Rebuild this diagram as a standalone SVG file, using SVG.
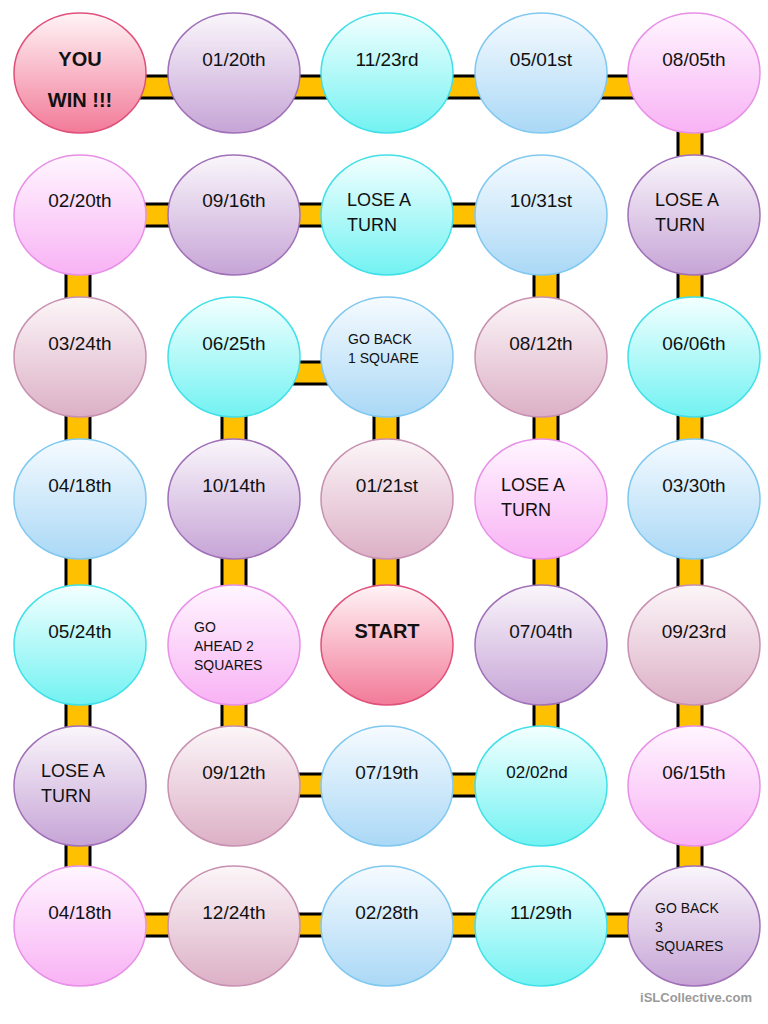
<svg xmlns="http://www.w3.org/2000/svg" width="768" height="1024" viewBox="0 0 768 1024">
<defs>
<linearGradient id="gR" x1="0" y1="0" x2="0" y2="1"><stop offset="0" stop-color="#fff4f6"/><stop offset="1" stop-color="#f27a98"/></linearGradient>
<linearGradient id="gP" x1="0" y1="0" x2="0" y2="1"><stop offset="0" stop-color="#faf6fb"/><stop offset="1" stop-color="#c6a4d6"/></linearGradient>
<linearGradient id="gC" x1="0" y1="0" x2="0" y2="1"><stop offset="0" stop-color="#f4ffff"/><stop offset="1" stop-color="#72f2f2"/></linearGradient>
<linearGradient id="gB" x1="0" y1="0" x2="0" y2="1"><stop offset="0" stop-color="#f6fbff"/><stop offset="1" stop-color="#aad8f6"/></linearGradient>
<linearGradient id="gM" x1="0" y1="0" x2="0" y2="1"><stop offset="0" stop-color="#fff6ff"/><stop offset="1" stop-color="#f8b2f4"/></linearGradient>
<linearGradient id="gS" x1="0" y1="0" x2="0" y2="1"><stop offset="0" stop-color="#fcf6f8"/><stop offset="1" stop-color="#dcb0c6"/></linearGradient>
</defs>
<style>
.h{fill:#ffc000;stroke:#000;stroke-width:3}
ellipse{stroke-width:1.5}
.R{fill:url(#gR);stroke:#e0507a}.P{fill:url(#gP);stroke:#a070b8}.C{fill:url(#gC);stroke:#40e0e8}
.B{fill:url(#gB);stroke:#80c8f0}.M{fill:url(#gM);stroke:#e890e8}.S{fill:url(#gS);stroke:#c890b0}
text{font-family:"Liberation Sans",Arial,sans-serif;fill:#111}
.t{font-size:19px;text-anchor:middle}
.l{font-size:18px}
.s{font-size:14px}
.b{font-weight:bold;font-size:20px;text-anchor:middle}
</style>
<rect width="768" height="1024" fill="#fff"/>
<g id="connectors">
<rect class="h" x="140" y="76" width="500" height="22"/>
<rect class="h" x="678" y="120" width="24" height="50"/>
<rect class="h" x="140" y="204" width="350" height="22"/>
<rect class="h" x="66" y="265" width="24" height="45"/>
<rect class="h" x="534" y="265" width="24" height="45"/>
<rect class="h" x="678" y="265" width="24" height="45"/>
<rect class="h" x="290" y="362" width="45" height="22"/>
<rect class="h" x="66" y="405" width="24" height="45"/>
<rect class="h" x="222" y="405" width="24" height="45"/>
<rect class="h" x="374" y="405" width="24" height="45"/>
<rect class="h" x="534" y="405" width="24" height="45"/>
<rect class="h" x="678" y="405" width="24" height="45"/>
<rect class="h" x="66" y="550" width="24" height="45"/>
<rect class="h" x="222" y="550" width="24" height="45"/>
<rect class="h" x="374" y="550" width="24" height="45"/>
<rect class="h" x="534" y="550" width="24" height="45"/>
<rect class="h" x="678" y="550" width="24" height="45"/>
<rect class="h" x="66" y="695" width="24" height="45"/>
<rect class="h" x="222" y="695" width="24" height="45"/>
<rect class="h" x="534" y="695" width="24" height="45"/>
<rect class="h" x="678" y="695" width="24" height="45"/>
<rect class="h" x="290" y="774" width="200" height="22"/>
<rect class="h" x="66" y="835" width="24" height="45"/>
<rect class="h" x="678" y="835" width="24" height="45"/>
<rect class="h" x="140" y="914" width="500" height="22"/>
</g>
<g id="n11"><ellipse class="R" cx="80" cy="73" rx="66" ry="60"/><text class="b" x="80" y="66">YOU</text><text class="b" x="80" y="107">WIN !!!</text></g>
<g id="n12"><ellipse class="P" cx="234" cy="73" rx="66" ry="60"/><text class="t" x="234" y="66">01/20th</text></g>
<g id="n13"><ellipse class="C" cx="387" cy="73" rx="66" ry="60"/><text class="t" x="387" y="66">11/23rd</text></g>
<g id="n14"><ellipse class="B" cx="541" cy="73" rx="66" ry="60"/><text class="t" x="541" y="66">05/01st</text></g>
<g id="n15"><ellipse class="M" cx="694" cy="73" rx="66" ry="60"/><text class="t" x="694" y="66">08/05th</text></g>
<g id="n21"><ellipse class="M" cx="80" cy="215" rx="66" ry="60"/><text class="t" x="80" y="207">02/20th</text></g>
<g id="n22"><ellipse class="P" cx="234" cy="215" rx="66" ry="60"/><text class="t" x="234" y="207">09/16th</text></g>
<g id="n23"><ellipse class="C" cx="387" cy="215" rx="66" ry="60"/><text class="l" x="347" y="206">LOSE A</text><text class="l" x="347" y="231">TURN</text></g>
<g id="n24"><ellipse class="B" cx="541" cy="215" rx="66" ry="60"/><text class="t" x="541" y="207">10/31st</text></g>
<g id="n25"><ellipse class="P" cx="694" cy="215" rx="66" ry="60"/><text class="l" x="655" y="206">LOSE A</text><text class="l" x="655" y="231">TURN</text></g>
<g id="n31"><ellipse class="S" cx="80" cy="357" rx="66" ry="60"/><text class="t" x="80" y="350">03/24th</text></g>
<g id="n32"><ellipse class="C" cx="234" cy="357" rx="66" ry="60"/><text class="t" x="234" y="350">06/25th</text></g>
<g id="n33"><ellipse class="B" cx="387" cy="357" rx="66" ry="60"/><text class="s" x="348" y="344">GO BACK</text><text class="s" x="348" y="363">1 SQUARE</text></g>
<g id="n34"><ellipse class="S" cx="541" cy="357" rx="66" ry="60"/><text class="t" x="541" y="350">08/12th</text></g>
<g id="n35"><ellipse class="C" cx="694" cy="357" rx="66" ry="60"/><text class="t" x="694" y="350">06/06th</text></g>
<g id="n41"><ellipse class="B" cx="80" cy="499" rx="66" ry="60"/><text class="t" x="80" y="492">04/18th</text></g>
<g id="n42"><ellipse class="P" cx="234" cy="499" rx="66" ry="60"/><text class="t" x="234" y="492">10/14th</text></g>
<g id="n43"><ellipse class="S" cx="387" cy="499" rx="66" ry="60"/><text class="t" x="387" y="492">01/21st</text></g>
<g id="n44"><ellipse class="M" cx="541" cy="499" rx="66" ry="60"/><text class="l" x="501" y="491">LOSE A</text><text class="l" x="501" y="516">TURN</text></g>
<g id="n45"><ellipse class="B" cx="694" cy="499" rx="66" ry="60"/><text class="t" x="694" y="492">03/30th</text></g>
<g id="n51"><ellipse class="C" cx="80" cy="645" rx="66" ry="60"/><text class="t" x="80" y="638">05/24th</text></g>
<g id="n52"><ellipse class="M" cx="234" cy="645" rx="66" ry="60"/><text class="s" x="194" y="632">GO</text><text class="s" x="194" y="651">AHEAD 2</text><text class="s" x="194" y="670">SQUARES</text></g>
<g id="n53"><ellipse class="R" cx="387" cy="645" rx="66" ry="60"/><text class="b" x="387" y="638">START</text></g>
<g id="n54"><ellipse class="P" cx="541" cy="645" rx="66" ry="60"/><text class="t" x="541" y="638">07/04th</text></g>
<g id="n55"><ellipse class="S" cx="694" cy="645" rx="66" ry="60"/><text class="t" x="694" y="638">09/23rd</text></g>
<g id="n61"><ellipse class="P" cx="80" cy="786" rx="66" ry="60"/><text class="l" x="41" y="777">LOSE A</text><text class="l" x="41" y="802">TURN</text></g>
<g id="n62"><ellipse class="S" cx="234" cy="786" rx="66" ry="60"/><text class="t" x="234" y="779">09/12th</text></g>
<g id="n63"><ellipse class="B" cx="387" cy="786" rx="66" ry="60"/><text class="t" x="387" y="779">07/19th</text></g>
<g id="n64"><ellipse class="C" cx="541" cy="786" rx="66" ry="60"/><text class="t" x="537" y="778" style="font-size:17px">02/02nd</text></g>
<g id="n65"><ellipse class="M" cx="694" cy="786" rx="66" ry="60"/><text class="t" x="694" y="779">06/15th</text></g>
<g id="n71"><ellipse class="M" cx="80" cy="926" rx="66" ry="60"/><text class="t" x="80" y="919">04/18th</text></g>
<g id="n72"><ellipse class="S" cx="234" cy="926" rx="66" ry="60"/><text class="t" x="234" y="919">12/24th</text></g>
<g id="n73"><ellipse class="B" cx="387" cy="926" rx="66" ry="60"/><text class="t" x="387" y="919">02/28th</text></g>
<g id="n74"><ellipse class="C" cx="541" cy="926" rx="66" ry="60"/><text class="t" x="541" y="919">11/29th</text></g>
<g id="n75"><ellipse class="P" cx="694" cy="926" rx="66" ry="60"/><text class="s" x="655" y="913">GO BACK</text><text class="s" x="655" y="932">3</text><text class="s" x="655" y="951">SQUARES</text></g>
<text x="752" y="1002" style="font-size:13px;font-weight:bold;fill:#9a9a9a;text-anchor:end">iSLCollective.com</text>
</svg>
